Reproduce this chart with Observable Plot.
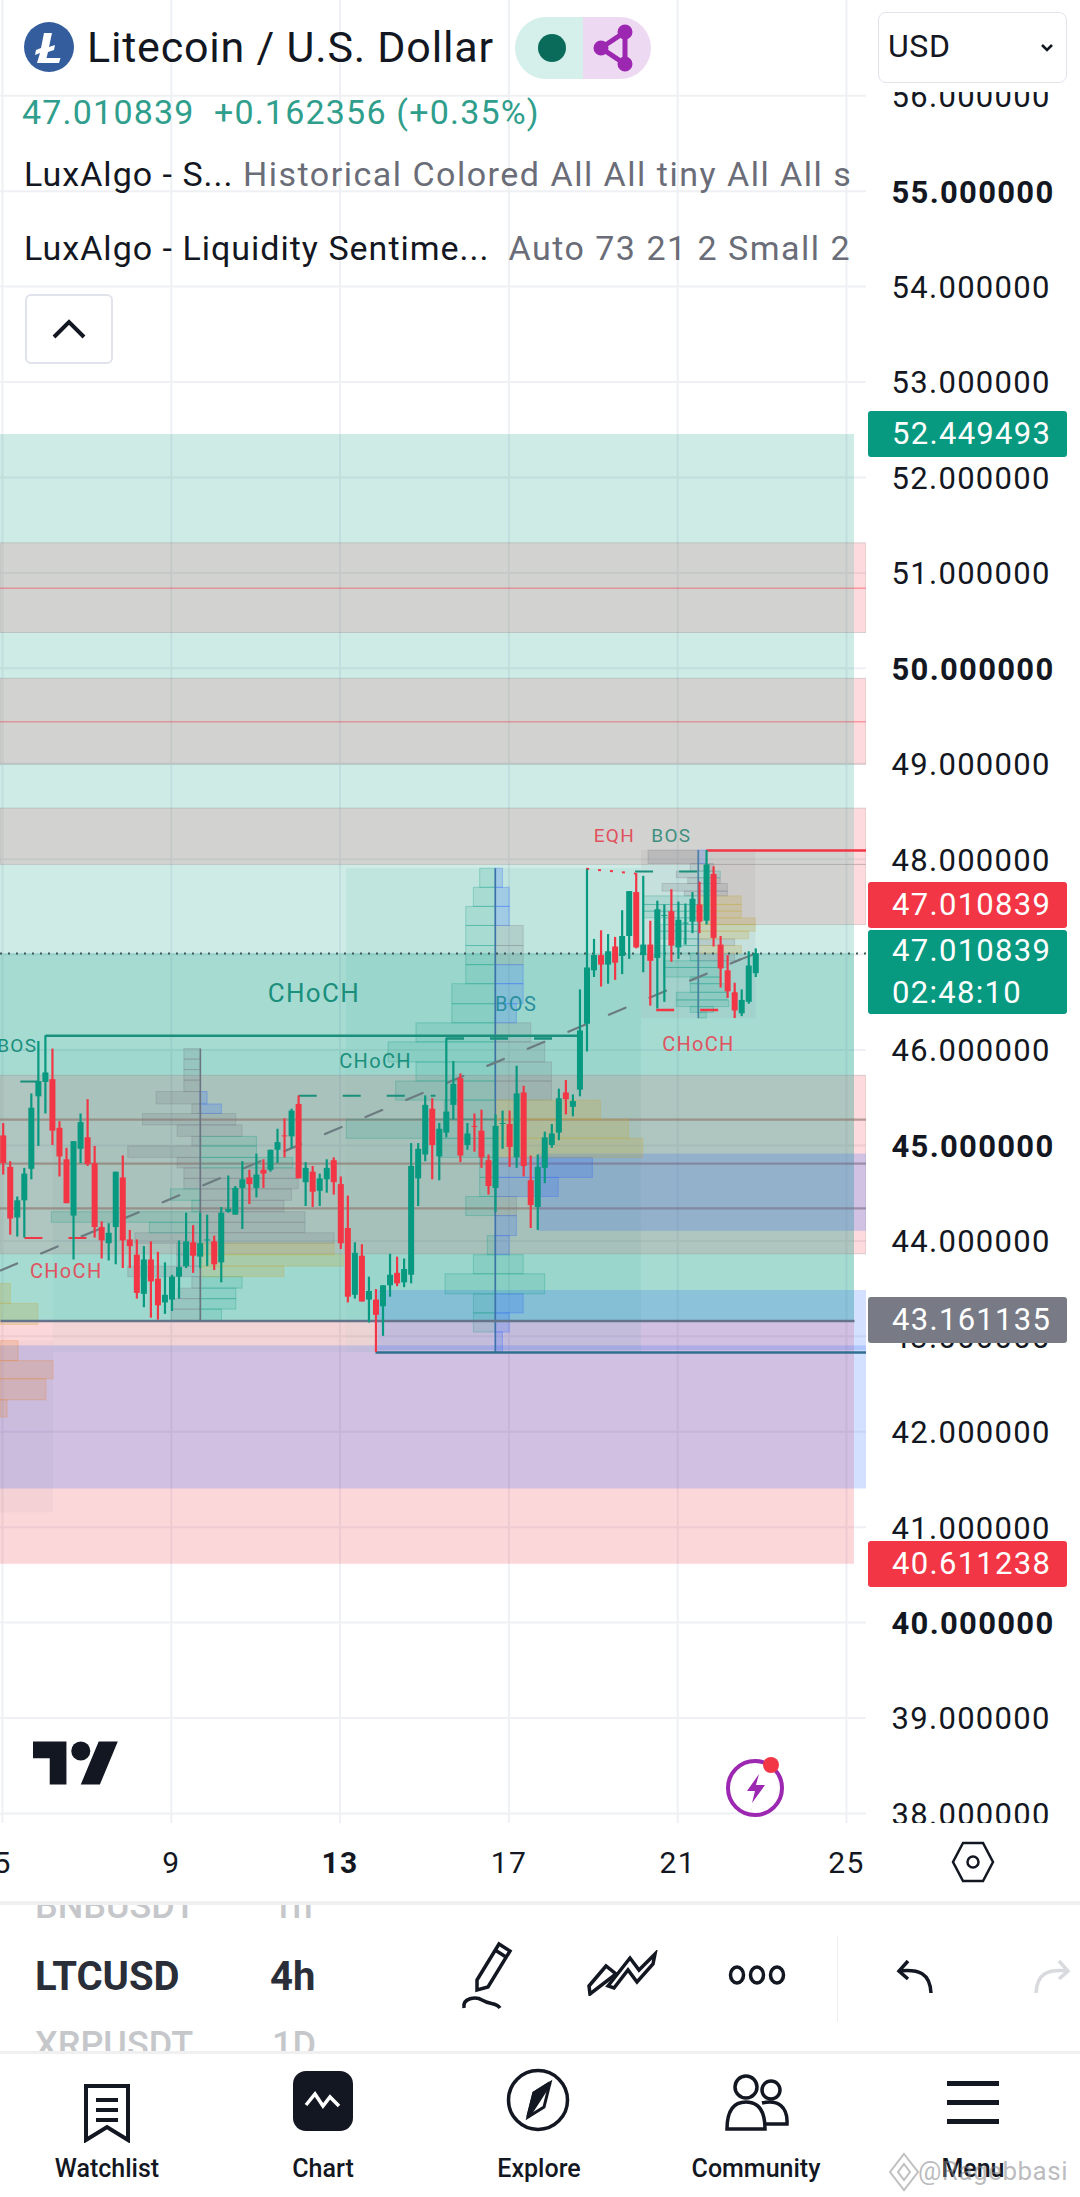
<!DOCTYPE html>
<html><head><meta charset="utf-8">
<script src="https://cdn.jsdelivr.net/npm/d3@7"></script>
<script src="https://cdn.jsdelivr.net/npm/@observablehq/plot@0.6"></script>
<style>
html,body{margin:0;padding:0;background:#fff}
#page{position:relative;width:1080px;height:2197px;overflow:hidden;font-family:Roboto,sans-serif;color:#131722}
#chart{position:absolute;left:0;top:0}
.a{position:absolute;white-space:nowrap}
.tag{position:absolute;left:868px;width:175px;padding-left:24px;border-radius:3px;color:#fff;font-size:31px;letter-spacing:1.3px;line-height:46px}
</style></head><body>
<div id="page"><div id="chart"></div></div>
<script>
const opens=[45.10,44.77,44.24,44.42,44.75,45.51,45.66,45.69,45.18,44.85,44.26,44.96,45.08,44.81,44.14,43.97,44.14,44.66,44.01,43.85,43.44,43.80,43.60,43.35,43.38,43.62,43.73,43.98,43.83,44.00,43.99,43.77,44.30,44.27,44.55,44.66,44.55,44.74,44.74,44.95,45.10,45.09,45.43,44.61,44.72,44.52,44.64,44.84,44.59,44.13,43.43,43.84,43.38,43.38,43.31,43.53,43.66,43.56,43.64,44.65,44.90,45.38,44.88,45.13,45.42,45.70,45.00,45.20,45.15,44.84,44.55,45.22,45.22,44.87,45.55,44.63,44.35,44.76,45.00,45.13,45.55,45.40,45.58,46.27,46.83,46.99,46.89,47.08,46.98,47.19,47.65,46.99,47.10,46.96,47.40,47.45,47.07,47.32,47.34,47.52,47.35,47.84,47.10,46.83,46.60,46.38,46.50,46.80];
const highs=[45.23,44.83,44.46,44.76,45.54,46.09,46.15,46.01,45.25,44.97,45.04,45.33,45.48,44.99,44.20,44.18,44.72,44.89,44.11,44.01,43.94,43.99,43.88,43.77,43.64,44.00,44.29,44.16,44.29,44.27,44.05,44.35,44.68,44.57,44.83,44.74,44.91,44.85,44.95,45.17,45.28,45.38,45.52,44.82,44.78,44.70,44.85,44.87,44.67,44.47,43.98,43.96,43.62,43.49,43.53,43.86,43.83,43.81,45.02,45.02,45.52,45.49,45.23,46.12,45.88,45.75,45.23,45.33,45.37,44.90,45.32,45.36,45.36,45.83,45.62,44.89,44.90,45.14,45.22,45.59,45.68,45.53,46.63,47.89,47.16,47.25,47.21,47.18,47.46,47.66,47.85,47.82,47.35,47.56,47.52,47.68,47.55,47.53,47.65,47.76,48.09,47.92,47.19,46.99,46.70,46.63,47.03,47.06];
const lows=[44.69,44.06,44.04,44.03,44.64,44.99,45.33,45.00,44.67,44.39,43.80,44.81,44.78,44.03,43.81,43.79,43.75,43.71,43.71,43.39,43.30,43.19,43.17,43.23,43.26,43.39,43.71,43.66,43.71,43.73,43.69,43.56,44.29,44.27,44.12,44.38,44.45,44.55,44.72,44.81,44.87,44.97,44.65,44.36,44.35,44.36,44.50,44.48,43.91,43.35,43.39,43.36,43.14,42.83,43.00,43.41,43.52,43.51,43.55,44.36,44.83,44.64,44.63,45.08,45.27,44.82,44.95,44.93,44.76,44.48,44.30,44.96,44.77,44.76,44.67,44.13,44.11,44.60,44.97,45.05,45.32,45.30,45.51,45.98,46.76,46.66,46.69,46.73,46.79,46.95,47.06,46.81,46.46,46.43,46.50,46.92,46.95,47.10,47.22,47.22,47.31,47.08,46.65,46.54,46.33,46.35,46.48,46.76];
const closes=[44.81,44.23,44.42,44.70,45.39,45.67,45.76,45.15,44.88,44.39,45.04,45.24,44.80,44.14,44.00,44.08,44.72,44.00,43.94,43.45,43.80,43.57,43.32,43.43,43.62,43.72,43.99,43.84,43.97,44.01,43.75,44.29,44.33,44.55,44.64,44.59,44.69,44.70,44.95,45.03,45.09,45.36,44.65,44.76,44.51,44.65,44.76,44.61,43.97,43.41,43.87,43.36,43.47,43.22,43.53,43.64,43.55,43.70,44.78,44.96,45.42,45.00,45.17,45.35,45.64,44.89,45.12,45.19,44.87,44.57,45.20,45.23,44.98,45.54,44.78,44.37,44.77,45.08,45.12,45.49,45.48,45.46,46.20,46.86,46.99,46.89,47.03,46.91,47.19,47.66,47.07,47.10,46.93,47.47,47.41,47.09,47.36,47.33,47.58,47.34,47.94,47.17,46.85,46.61,46.41,46.52,46.88,47.01];
const firstDay=5.017, barsPerDay=6;

const dayTicks=[5,9,13,17,21,25], boldDays=[13];
const priceTicks=d3.range(38,57), boldPrices=[40,45,50,55];
const xDomain=[4.953,25.474], yDomain=[37.895,56.998];
const zoneEnd=25.19;

// liquidity zones: [from day, to day, high, low]
const sellZones=[[4.953,25.474,51.31,50.37],[4.953,25.474,49.89,48.99],[4.953,25.474,48.53,47.94],[21.71,25.474,47.94,47.31],[4.953,25.474,45.73,43.86]];
const sellZoneEdges=sellZones.map(z=>[zoneEnd,z[1],z[2],z[3]]);
const sellLevels=[50.84,49.44];
const midLevels=[45.27,44.81,44.34];
const buyZones=[[13.9,25.474,43.48,42.85],[4.953,25.474,42.9,41.4],[17.7,25.474,44.91,44.10]];
const blocks=[[6.2,13.15,46.01,42.83,"#089981",.04],[13.15,20.14,47.9,42.83,"#089981",.07],[20.14,22.85,48.09,46.33,"#787b86",.09],[4.953,6.21,42.95,41.15,"#787b86",.06]];

// volume profiles
const p1Center=9.69;
const p1Levels=[46.01,45.90,45.79,45.68,45.56,45.43,45.33,45.21,45.09,44.99,44.87,44.76,44.65,44.54,44.42,44.30,44.19,44.08,43.97,43.85,43.73,43.62,43.50,43.39,43.28,43.16];
const p1Left=[.38,.38,.38,.38,1.04,.19,1.36,.54,.19,1.71,.54,.38,.38,.70,.19,3.52,1.2,1.54,.55,.55,1.71,.19,.52,.68,.68];
const p1Right=[0,0,0,0,.17,.51,.85,1,1.34,1.34,2.2,2.29,2.33,2.17,1.99,2.49,2.49,3.18,3.18,3.4,1.99,1,.85,.85,.51];
const p1LeftKind ="gggggggggggggttttgggggggg";
const p1RightKind="ggggbbggtttgggggggooottttb";
const p2Center=16.68;
const p2Levels=[47.90,47.70,47.50,47.30,47.09,46.89,46.69,46.48,46.28,46.08,45.87,45.67,45.47,45.27,45.07,44.87,44.66,44.46,44.26,44.05,43.85,43.65,43.44,43.24,43.04,42.83];
const p2Left=[.36,.51,.69,.69,.69,.69,1.02,1.02,1.87,2.53,1.87,2.35,1.2,3.52,1.3,.36,.36,.69,0,.18,.51,1.18,.51,.51,0];
const p2Right=[.18,.34,.34,.67,.67,.67,.67,.51,.85,1.18,1.34,1.34,2.5,3.17,3.5,2.31,1.5,.51,.51,.34,.67,1.18,.67,.34,.18];
const p2LeftKind ="ttttttttttttttttttttttttt";
const p2RightKind="bbbggbbbggggooobbgbbttbbb";
const p3Center=21.49;
const p3Levels=[48.09,47.95,47.87,47.80,47.74,47.66,47.61,47.52,47.45,47.38,47.31,47.24,47.16,47.09,47.01,46.93,46.86,46.76,46.69,46.60,46.52,46.45,46.39,46.33];
const p3Left=[1.18,.18,.51,.24,.85,.32,1.29,1.29,1.29,.81,.97,.97,.34,.97,.18,.81,.81,.18,.18,.51,.51,.18,0];
const p3Right=[.2,.37,.53,.53,.7,.7,1.03,1.03,1.03,1.36,1.36,1.2,.87,1.03,.87,.69,.53,.53,.69,.69,.73,.37,.2];
const p3LeftKind ="ggggggttttttttttttttttt";
const p3RightKind="bgtgggoooooogogttttttttb";
const leftBars=[[43.55,43.34,5.2,"o"],[43.34,43.12,5.85,"o"],[42.95,42.74,5.38,"a"],[42.74,42.55,6.21,"a"],[42.55,42.33,6.04,"a"],[42.33,42.15,5.12,"a"]];
const kindColor={g:"#787b86",t:"#089981",b:"#2962ff",o:"#c4a83a",a:"#e8862e"};
const kindOpacity={g:.2,t:.13,b:.2,o:.24,a:.2};

function rows(center,levels,left,right,lk,rk){
  const out=[];
  levels.slice(0,-1).forEach((hi,i)=>{
    const lo=levels[i+1];
    if(left[i]>0) out.push({x1:center-left[i],x2:center,hi,lo,k:lk[i]||"g"});
    if(right[i]>0) out.push({x1:center,x2:center+right[i],hi,lo,k:rk[i]||"g"});
  });
  return out;
}
const profileRows=[...rows(p1Center,p1Levels,p1Left,p1Right,p1LeftKind,p1RightKind),
  ...rows(p2Center,p2Levels,p2Left,p2Right,p2LeftKind,p2RightKind),
  ...rows(p3Center,p3Levels,p3Left,p3Right,p3LeftKind,p3RightKind),
  ...leftBars.map(b=>({x1:4.953,x2:b[2],hi:b[0],lo:b[1],k:b[3]}))];
const pocLines=[[p1Center,46.01,43.16,"#6b7480"],[p2Center,47.9,42.83,"#3f72a8"],[p3Center,48.09,46.33,"#4a7fa0"]];

const bars=opens.map((o,i)=>({d:firstDay+i/barsPerDay,o,h:highs[i],l:lows[i],c:closes[i]}));
const GREEN="#089981",RED="#F23645";

// structure lines: [day1, day2, price1, price2, colour, width, dash]
const structure=[
 [6.02,18.63,46.15,46.15,"#1a8f7c",2.5,null],
 [5.85,4.953,45.67,45.67,"#1a8f7c",2,"18,26"],
 [12.02,15.26,45.52,45.52,"#1a8f7c",2,"18,26"],
 [5.52,7.35,44.03,44.03,RED,2,"18,26"],
 [15.51,18.63,46.12,46.12,"#1a8f7c",2.5,"18,26"],
 [18.83,19.99,47.90,47.85,RED,2,"3,9"],
 [19.99,21.49,47.87,47.87,"#1a8f7c",2,"18,26"],
 [21.68,25.474,48.09,48.09,RED,2.5,null],
 [20.49,22.35,46.42,46.42,RED,2.5,"18,26"],
 [4.953,25.19,43.16,43.16,"#64748b",2.5,null],
 [13.84,25.474,42.83,42.83,"#2f6f8f",2.5,null],
 [22.49,22.85,46.95,47.01,"#6b7b80",2,null]
];
const trend=[[4.953,43.69],[22.49,46.95]];
const labels=[
 [5.35,46.04,"BOS","#1a8f7c",19],[12.38,46.59,"CHoCH","#1a8f7c",26],[13.84,45.88,"CHoCH","#1a8f7c",20],
 [6.51,43.68,"CHoCH","#e0525e",20],[17.17,46.48,"BOS","#2a8f9f",20],[19.5,48.24,"EQH","#e0525e",19],
 [20.85,48.24,"BOS","#3f8f80",19],[21.49,46.06,"CHoCH","#e0525e",20]
];
const tags=[[52.449493,"52.449493",GREEN],[43.161135,"43.161135","#787b86"],[40.611238,"40.611238",RED]];

const lineMark=s=>Plot.link([s],{x1:d=>d[0],x2:d=>d[1],y1:d=>d[2],y2:d=>d[3],stroke:s[4],strokeWidth:s[5],strokeDasharray:s[6]||undefined,clip:true});
const zr=(data,fill,op,extra={})=>Plot.rect(data,{x1:d=>d[0],x2:d=>d[1],y1:d=>d[2],y2:d=>d[3],fill,fillOpacity:op,clip:true,...extra});

const chart=Plot.plot({
  width:1080,height:1885,marginLeft:0,marginRight:214,marginTop:0,marginBottom:62,
  style:{fontFamily:"Roboto",background:"transparent",color:"#131722",letterSpacing:"1.3px",overflow:"hidden"},
  x:{domain:xDomain,axis:null},
  y:{domain:yDomain,axis:null},
  marks:[
    Plot.gridX(dayTicks,{stroke:"#eef0f4",strokeOpacity:1,strokeWidth:2}),
    Plot.gridY(priceTicks,{stroke:"#eef0f4",strokeOpacity:1,strokeWidth:2}),
    zr([[xDomain[0],zoneEnd,52.449493,43.161135]],GREEN,.2),
    zr([[xDomain[0],zoneEnd,47.010839,43.161135]],GREEN,.2),
    zr([[xDomain[0],zoneEnd,43.161135,40.611238]],RED,.2),
    ...blocks.map(b=>zr([b],b[4],b[5])),
    zr(sellZones,RED,.13,{stroke:"#8a8a88",strokeOpacity:.3,strokeWidth:1}),
    zr(sellZoneEdges,RED,.06),
    ...sellLevels.map(v=>Plot.ruleY([v],{stroke:RED,strokeOpacity:.4,strokeWidth:1.5,clip:true})),
    ...midLevels.map(v=>Plot.ruleY([v],{stroke:"#8a6f68",strokeOpacity:.6,strokeWidth:2.2,clip:true})),
    zr(buyZones,"#2962ff",.2),
    ...Object.keys(kindColor).map(k=>Plot.rect(profileRows.filter(r=>r.k===k),{x1:"x1",x2:"x2",y1:"hi",y2:"lo",fill:kindColor[k],fillOpacity:kindOpacity[k],stroke:kindColor[k],strokeOpacity:.28,strokeWidth:1,clip:true})),
    ...pocLines.map(l=>Plot.ruleX([l[0]],{y1:l[1],y2:l[2],stroke:l[3],strokeWidth:1.5,clip:true})),
    Plot.line(trend,{x:d=>d[0],y:d=>d[1],stroke:"#6b7b80",strokeWidth:2.2,strokeDasharray:"18,26",clip:true}),
    ...structure.map(lineMark),
    Plot.ruleY([47.010839],{stroke:"#3e5a58",strokeWidth:2,strokeDasharray:"2,6",clip:true}),
    Plot.ruleX(bars.filter(b=>b.c>=b.o),{x:"d",y1:"l",y2:"h",stroke:GREEN,strokeWidth:2.2,clip:true}),
    Plot.ruleX(bars.filter(b=>b.c>=b.o),{x:"d",y1:"o",y2:"c",stroke:GREEN,strokeWidth:6,clip:true}),
    Plot.ruleX(bars.filter(b=>b.c<b.o),{x:"d",y1:"l",y2:"h",stroke:RED,strokeWidth:2.2,clip:true}),
    Plot.ruleX(bars.filter(b=>b.c<b.o),{x:"d",y1:"o",y2:"c",stroke:RED,strokeWidth:6,clip:true}),
    ...labels.map(l=>Plot.text([l],{x:d=>d[0],y:d=>d[1],text:d=>d[2],fill:l[3],fontSize:l[4],stroke:"none",clip:true})),
    Plot.axisY(priceTicks.filter(v=>!boldPrices.includes(v)),{anchor:"right",tickSize:0,tickPadding:25,dy:1.5,fontSize:31,tickFormat:d3.format(".6f"),label:null,textAnchor:"start"}),
    Plot.axisY(boldPrices,{anchor:"right",tickSize:0,tickPadding:25,dy:1.5,fontSize:31,fontWeight:700,tickFormat:d3.format(".6f"),label:null,textAnchor:"start"}),
    Plot.axisX(dayTicks.filter(v=>!boldDays.includes(v)),{tickSize:0,tickPadding:28,fontSize:30,label:null}),
    Plot.axisX(boldDays,{tickSize:0,tickPadding:28,fontSize:30,fontWeight:700,label:null})
  ]
});
document.getElementById("chart").appendChild(chart);
const page=document.getElementById("page");
const yS=chart.scale("y");
function add(html){page.insertAdjacentHTML("beforeend",html);}
// masks
add(`<div class="a" style="left:866px;top:0;width:214px;height:92px;background:#fff"></div>`);
add(`<div class="a" style="left:866px;top:1823px;width:214px;height:6px;background:#fff"></div>`);
tags.forEach(t=>add(`<div class="tag" style="top:${yS.apply(t[0])-23}px;height:46px;background:${t[2]}">${t[1]}</div>`));
add(`<div class="tag" style="top:882px;height:46px;background:${RED}">47.010839</div>`);
add(`<div class="tag" style="top:930px;height:84px;background:${GREEN};line-height:42px">47.010839<br>02:48:10</div>`);
// header
add(`<svg class="a" style="left:23px;top:21px" width="52" height="52" viewBox="0 0 52 52"><circle cx="26" cy="26" r="25" fill="#345d9d"/><path d="M21 12h8l-3 14 6-2-1 5-6 2-1.500 6h14l-1.500 5H14l3-10-5 2 1-5 5-2z" fill="#fff"/></svg>`);
add(`<div class="a" style="left:87px;top:22px;font-size:43px;letter-spacing:.8px;line-height:50px">Litecoin / U.S. Dollar</div>`);
add(`<svg class="a" style="left:515px;top:17px" width="136" height="62" viewBox="0 0 136 62"><path d="M31 0h37v62H31a31 31 0 0 1 0-62z" fill="#d5efeb"/><path d="M68 0h37a31 31 0 0 1 0 62H68z" fill="#eed9f2"/><circle cx="37" cy="31" r="14" fill="#0b6b5b"/><g fill="#9c27b0" stroke="#9c27b0" stroke-width="5"><circle cx="86" cy="31" r="5"/><circle cx="110" cy="15" r="5"/><circle cx="110" cy="47" r="5"/><path d="M86 31L110 15V47Z" fill="none"/></g></svg>`);
add(`<div class="a" style="left:878px;top:12px;width:187px;height:69px;border:1px solid #e0e3eb;border-radius:8px;background:#fff;font-size:32px;letter-spacing:.6px;line-height:66px;text-indent:9px">USD<svg style="position:absolute;right:12px;top:30px" width="14" height="10" viewBox="0 0 14 10"><path d="M2 2l5 5 5-5" fill="none" stroke="#131722" stroke-width="2.600"/></svg></div>`);
add(`<div class="a" style="left:22px;top:92px;font-size:34px;letter-spacing:1.2px;line-height:40px;color:#2f9e8c">47.010839&nbsp; +0.162356 (+0.35%)</div>`);
add(`<div class="a" style="left:24px;top:154px;width:830px;overflow:hidden;font-size:34px;letter-spacing:1px;line-height:40px">LuxAlgo - S... <span style="color:#6a6d78;letter-spacing:1.5px">Historical Colored All All tiny All All small</span></div>`);
add(`<div class="a" style="left:24px;top:228px;width:830px;overflow:hidden;font-size:34px;letter-spacing:1px;line-height:40px">LuxAlgo - Liquidity Sentime... &nbsp;<span style="color:#6a6d78;letter-spacing:1.5px">Auto 73 21 2 Small 2</span></div>`);
add(`<div class="a" style="left:25px;top:294px;width:84px;height:66px;border:2px solid #e0e3eb;border-radius:6px;background:#fff"><svg style="position:absolute;left:24px;top:21px" width="36" height="24" viewBox="0 0 36 24"><path d="M3 20L18 5l15 15" fill="none" stroke="#131722" stroke-width="4"/></svg></div>`);
// tv logo and lightning
add(`<svg class="a" style="left:33px;top:1741px" width="86" height="44" viewBox="0 4 36 18"><path d="M14 22H7V11H0V4h14v18zM28 22h-8l7.500-18h8L28 22z" fill="#131722"/><circle cx="20" cy="8" r="4" fill="#131722"/></svg>`);
add(`<svg class="a" style="left:722px;top:1752px" width="68" height="68" viewBox="0 0 68 68"><circle cx="33" cy="36" r="27" fill="#fff" stroke="#9c27b0" stroke-width="4"/><path d="M37 22L25 39h8l-3 12 13-18h-9z" fill="#9c27b0"/><circle cx="49" cy="13" r="8" fill="#f23645"/></svg>`);
// axis settings
add(`<svg class="a" style="left:951px;top:1840px" width="44" height="44" viewBox="0 0 44 44"><path d="M12 3h20l10 19-10 19H12L2 22z" fill="none" stroke="#131722" stroke-width="2.500"/><circle cx="22" cy="22" r="5.500" fill="none" stroke="#131722" stroke-width="2.500"/></svg>`);
// bottom
add(`<div class="a" style="left:0;top:1901px;width:1080px;height:4px;background:#f0f0f0"></div>`);
add(`<div class="a" style="left:0;top:1905px;width:1080px;height:24px;overflow:hidden;color:#c6c7cb;font-size:36px;font-weight:500"><span class="a" style="left:35px;top:-20px">BNBUSDT</span><span class="a" style="left:272px;top:-20px">1h</span></div>`);
add(`<div class="a" style="left:35px;top:1954px;font-size:40px;font-weight:700;color:#2a2e39;line-height:46px">LTCUSD</div>`);
add(`<div class="a" style="left:270px;top:1954px;font-size:40px;font-weight:700;color:#2a2e39;line-height:46px">4h</div>`);
add(`<div class="a" style="left:0;top:2024px;width:1080px;height:28px;overflow:hidden;color:#c6c7cb;font-size:36px;font-weight:500"><span class="a" style="left:35px;top:0">XRPUSDT</span><span class="a" style="left:272px;top:0">1D</span></div>`);
add(`<div class="a" style="left:0;top:2051px;width:1080px;height:3px;background:#f0f0f0"></div>`);
add(`<div class="a" style="left:837px;top:1936px;width:1px;height:86px;background:#eceef2"></div>`);
add(`<svg class="a" style="left:458px;top:1940px" width="66" height="72" viewBox="0 0 66 72" fill="none" stroke="#131722" stroke-width="3.500"><path d="M19 40L41 4l11 7-22 36-11 3z"/><path d="M37 10l11 7"/><path d="M6 68c-2-10 12-12 18-8 8 5 14 2 18 8"/></svg>`);
add(`<svg class="a" style="left:586px;top:1950px" width="72" height="46" viewBox="0 0 72 46" fill="none" stroke="#131722" stroke-width="3.500"><path d="M3 36L20 16l10 8L4 44z"/><path d="M22 36L44 8l9 12 16-16-2 10-16 18-9-12-14 18z"/></svg>`);
add(`<svg class="a" style="left:728px;top:1962px" width="58" height="26" viewBox="0 0 58 26" fill="none" stroke="#131722" stroke-width="3.500"><ellipse cx="9" cy="13" rx="6.500" ry="8"/><ellipse cx="29" cy="13" rx="6.500" ry="8"/><ellipse cx="49" cy="13" rx="6.500" ry="8"/></svg>`);
add(`<svg class="a" style="left:895px;top:1956px" width="40" height="40" viewBox="0 0 40 40" fill="none" stroke="#131722" stroke-width="3.500"><path d="M13 5L4 15l9 8"/><path d="M4 15c20-2 31 2 32 22"/></svg>`);
add(`<svg class="a" style="left:1032px;top:1956px" width="40" height="40" viewBox="0 0 40 40" fill="none" stroke="#d8dade" stroke-width="3.500"><path d="M27 5l9 10-9 8"/><path d="M36 15C16 13 5 17 4 37"/></svg>`);
// nav icons
add(`<svg class="a" style="left:83px;top:2083px" width="48" height="60" viewBox="0 0 48 60" fill="none" stroke="#131722" stroke-width="4"><path d="M3 3h42v54L24 44 3 57z"/><path d="M13 17h22M13 27h22M13 37h22"/></svg>`);
add(`<svg class="a" style="left:293px;top:2071px" width="60" height="60" viewBox="0 0 60 60"><rect width="60" height="60" rx="13" fill="#131722"/><path d="M13 34l9-11 8 12 7-9 9 9" fill="none" stroke="#fff" stroke-width="3.500"/></svg>`);
add(`<svg class="a" style="left:506px;top:2067px" width="64" height="66" viewBox="0 0 64 66" fill="none" stroke="#131722" stroke-width="3.500"><circle cx="32" cy="33" r="29.500"/><path d="M44 16L38 40 22 50l6-24z" stroke-width="3"/><path d="M44 16L22 50l6-24z" fill="#131722"/></svg>`);
add(`<svg class="a" style="left:724px;top:2073px" width="66" height="60" viewBox="0 0 66 60" fill="none" stroke="#131722" stroke-width="3.500"><circle cx="22" cy="14" r="11"/><circle cx="47" cy="17" r="9"/><path d="M3 56c0-18 6-27 19-27s19 9 19 27z"/><path d="M38 30c16-4 26 4 25 21H42"/></svg>`);
add(`<svg class="a" style="left:947px;top:2081px" width="52" height="44" viewBox="0 0 52 44" fill="#131722"><rect width="52" height="5"/><rect y="19" width="52" height="5"/><rect y="38" width="52" height="5"/></svg>`);
[["Watchlist",107],["Chart",323],["Explore",539],["Community",756],["Menu",973]].forEach(n=>add(`<div class="a" style="left:${n[1]-100}px;width:200px;top:2154px;text-align:center;font-size:25px;font-weight:500;line-height:30px">${n[0]}</div>`));
add(`<div class="a" style="left:918px;top:2154px;font-size:26px;letter-spacing:.5px;color:rgba(130,130,135,.55);line-height:34px">@Ragebbasi</div>`);
add(`<svg class="a" style="left:888px;top:2152px" width="32" height="40" viewBox="0 0 32 40" fill="none" stroke="rgba(130,130,135,.5)" stroke-width="2"><path d="M16 2l14 18-14 18L2 20z"/><path d="M16 12l6 8-6 8-6-8z"/></svg>`);
</script>
</body></html>
